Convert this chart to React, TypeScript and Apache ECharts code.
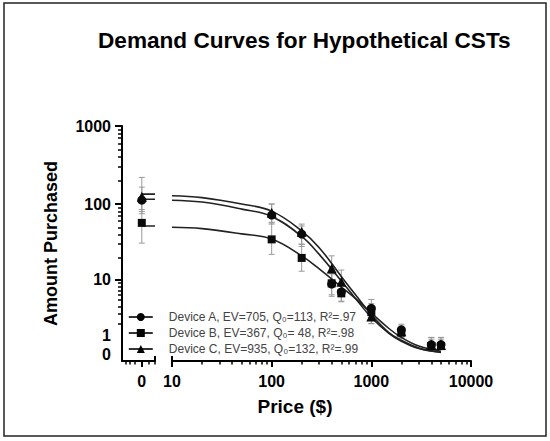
import { useEffect, useRef } from "react";
import * as echarts from "echarts";

const FONT = "'Liberation Sans', Arial, sans-serif";

const LEGEND_NAMES = [
  "Device A, EV=705, Q₀=113, R²=.97",
  "Device B, EV=367, Q₀= 48, R²=.98",
  "Device C, EV=935, Q₀=132, R²=.99",
];
const SYMBOLS = ["circle", "rect", "triangle"];
const SYMBOL_SIZES = [9, 8, 10];

// price = 0 segment
const ZERO_MEAN = [112, 57, 124];
const ZERO_LOW = [75, 31, 80];
const ZERO_HIGH = [165, 85, 220];
const ZERO_FIT = [115, 52, 134];

// observed prices
const PRICES = [100, 200, 400, 500, 1000, 2000, 4000, 5000];
const A_MEAN = [72, 40.7, 8.6, 6.6, 3.7, 1.5, 0.62, 0.62];
const A_LOW = [55, 28, 5.7, 4.7, 2.6, 1.1, 0.42, 0.42];
const A_HIGH = [100, 52, 12, 9, 5.1, 1.95, 1.0, 1.0];
const B_MEAN = [34.7, 19.7, 8.8, 6.3, 3.2, 1.3, 0.55, 0.55];
const B_LOW = [22, 13, 6, 4.8, 2.0, 0.94, 0.42, 0.42];
const B_HIGH = [58, 30, 12, 8.5, 4.4, 1.7, 0.9, 0.9];
const C_MEAN = [77, 43.7, 14.2, 9.3, 2.7, 1.4, 0.6, 0.6];
const C_LOW = [57, 30, 10, 6.5, 2.0, 1.0, 0.42, 0.42];
const C_HIGH = [100, 55, 21, 13.5, 3.6, 1.8, 1.0, 1.0];

// fitted demand curves
const FIT_PRICES = [10, 20, 50, 100, 200, 300, 500, 700, 1000, 1500, 2000, 3000, 5000];
const A_FIT = [112, 106, 86, 69, 38, 22, 9.5, 5.2, 2.6, 1.26, 0.79, 0.44, 0.29];
const B_FIT = [50, 48, 41, 35, 21, 14, 7.8, 5.2, 3.1, 1.6, 1.0, 0.55, 0.33];
const C_FIT = [128, 121, 100, 81, 45, 27, 11, 5.9, 2.9, 1.3, 0.84, 0.46, 0.3];

const Y_LABELS = [1, 10, 100, 1000];
const Y_ZERO_LABEL = [0];
const Y_MAJOR = [10, 100, 1000];
const Y_MINOR = [2, 3, 4, 5, 6, 7, 8, 9, 20, 30, 40, 50, 60, 70, 80, 90, 200, 300, 400, 500, 600, 700, 800, 900];
const X_LABELS = [10, 100, 1000, 10000];
const X_MINOR = [20, 30, 40, 50, 60, 70, 80, 90, 200, 300, 400, 500, 600, 700, 800, 900, 2000, 3000, 4000, 5000, 6000, 7000, 8000, 9000];
const ZERO_MIN = -6;
const ZERO_MAX = 4;
const ZERO_MINOR = [-5, -3.6, -2.2, 2, 4];

const MEANS = [A_MEAN, B_MEAN, C_MEAN];
const LOWS = [A_LOW, B_LOW, C_LOW];
const HIGHS = [A_HIGH, B_HIGH, C_HIGH];
const FITS = [A_FIT, B_FIT, C_FIT];

// y axis is log10(Q + 1), x axis is log10(price)
const ty = (q: number) => Math.log10(q + 1);
const tx = (p: number) => Math.log10(p);

const errorBars = (params: any, api: any) => {
  const x = api.value(0);
  const lo = api.coord([x, api.value(1)]);
  const hi = api.coord([x, api.value(2)]);
  const style = { stroke: "#9a9a9a", lineWidth: 1 };
  const w = 3;
  return {
    type: "group",
    children: [
      { type: "line", shape: { x1: lo[0], y1: lo[1], x2: hi[0], y2: hi[1] }, style },
      { type: "line", shape: { x1: lo[0] - w, y1: lo[1], x2: lo[0] + w, y2: lo[1] }, style },
      { type: "line", shape: { x1: hi[0] - w, y1: hi[1], x2: hi[0] + w, y2: hi[1] }, style },
    ],
  };
};

const AXIS_LINE = { show: true, onZero: false, lineStyle: { color: "#000", width: 2 } };
const NO_LINE = { show: false, onZero: false };

export default function App() {
  const ref = useRef<HTMLDivElement | null>(null);

  useEffect(() => {
    if (!ref.current) return;
    const chart = echarts.init(ref.current, undefined, { renderer: "svg" });
    const yMax = ty(1000);
    const labelStyle = { color: "#000", fontSize: 16, fontWeight: "bold" as const, fontFamily: FONT };

    // extra x axis that only draws a short tick above the line (segment ends)
    const segmentEnd = (gridIndex: number, min: number, max: number, at: number) => ({
      type: "value",
      gridIndex,
      position: "bottom",
      min,
      max,
      splitLine: { show: false },
      axisLine: NO_LINE,
      axisTick: { show: true, inside: true, customValues: [at], length: 5, lineStyle: { color: "#000", width: 2 } },
      axisLabel: { show: false },
    });

    const series: any[] = [];
    LEGEND_NAMES.forEach((name, i) => {
      series.push({
        name,
        type: "line",
        xAxisIndex: 2,
        yAxisIndex: 2,
        smooth: 0.4,
        symbol: SYMBOLS[i],
        showSymbol: false,
        lineStyle: { color: "#222", width: 1.6 },
        itemStyle: { color: "#000" },
        z: 3,
        data: FIT_PRICES.map((p, j) => [tx(p), ty(FITS[i][j])]),
      });
      series.push({
        name: `zero-fit-${i}`,
        type: "line",
        xAxisIndex: 0,
        yAxisIndex: 0,
        symbol: "none",
        lineStyle: { color: "#222", width: 1.6 },
        z: 3,
        data: [
          [0, ty(ZERO_FIT[i])],
          [ZERO_MAX, ty(ZERO_FIT[i])],
        ],
      });
      series.push({
        name: `err-${i}`,
        type: "custom",
        xAxisIndex: 2,
        yAxisIndex: 2,
        renderItem: errorBars,
        z: 1,
        data: PRICES.map((p, j) => [tx(p), ty(LOWS[i][j]), ty(HIGHS[i][j])]),
      });
      series.push({
        name: `zero-err-${i}`,
        type: "custom",
        xAxisIndex: 0,
        yAxisIndex: 0,
        renderItem: errorBars,
        z: 1,
        data: [[0, ty(ZERO_LOW[i]), ty(ZERO_HIGH[i])]],
      });
      series.push({
        name: `pts-${i}`,
        type: "scatter",
        xAxisIndex: 2,
        yAxisIndex: 2,
        symbol: SYMBOLS[i],
        symbolSize: SYMBOL_SIZES[i],
        itemStyle: { color: "#0a0a0a", opacity: 1 },
        z: 4,
        data: PRICES.map((p, j) => [tx(p), ty(MEANS[i][j])]),
      });
      series.push({
        name: `zero-pts-${i}`,
        type: "scatter",
        xAxisIndex: 0,
        yAxisIndex: 0,
        symbol: SYMBOLS[i],
        symbolSize: SYMBOL_SIZES[i],
        itemStyle: { color: "#0a0a0a", opacity: 1 },
        z: 4,
        data: [[0, ty(ZERO_MEAN[i])]],
      });
    });

    chart.setOption({
      animation: false,
      textStyle: { fontFamily: FONT },
      title: {
        text: "Demand Curves for Hypothetical CSTs",
        left: 93,
        top: 24,
        textStyle: { color: "#000", fontSize: 22.6, fontWeight: "bold", fontFamily: FONT },
      },
      graphic: [
        {
          type: "rect",
          shape: { x: 4, y: 3, width: 542, height: 433 },
          style: { fill: "transparent", stroke: "#222", lineWidth: 1.5 },
          silent: true,
        },
      ],
      legend: {
        data: LEGEND_NAMES,
        orient: "vertical",
        left: 123,
        top: 305,
        itemWidth: 24,
        itemHeight: 10,
        itemGap: 2,
        selectedMode: false,
        lineStyle: { color: "#000", width: 1.6 },
        textStyle: { color: "#444", fontSize: 12, fontFamily: FONT, lineHeight: 14, padding: [0, 0, 0, 11] },
      },
      grid: [
        { left: 122, right: 395, top: 126, bottom: 80 },
        { left: 172, right: 79, top: 126, bottom: 80 },
      ],
      xAxis: [
        {
          type: "value",
          gridIndex: 0,
          position: "bottom",
          min: ZERO_MIN,
          max: ZERO_MAX,
          splitLine: { show: false },
          axisLine: AXIS_LINE,
          axisTick: { show: true, customValues: [0], length: 6, lineStyle: { color: "#000", width: 2 } },
          axisLabel: { customValues: [0], margin: 12, ...labelStyle, formatter: () => "0" },
        },
        {
          type: "value",
          gridIndex: 0,
          position: "bottom",
          min: ZERO_MIN,
          max: ZERO_MAX,
          splitLine: { show: false },
          axisLine: NO_LINE,
          axisTick: { show: true, customValues: ZERO_MINOR, length: 3.5, lineStyle: { color: "#000", width: 1.5 } },
          axisLabel: { show: false },
        },
        {
          type: "value",
          gridIndex: 1,
          position: "bottom",
          min: tx(10),
          max: tx(10000),
          name: "Price ($)",
          nameLocation: "middle",
          nameGap: 36,
          nameTextStyle: { color: "#000", fontSize: 19, fontWeight: "bold", fontFamily: FONT, padding: [0, 53, 0, 0] },
          splitLine: { show: false },
          axisLine: AXIS_LINE,
          axisTick: { show: true, customValues: X_LABELS.map(tx), length: 6, lineStyle: { color: "#000", width: 2 } },
          axisLabel: {
            customValues: X_LABELS.map(tx),
            margin: 12,
            ...labelStyle,
            formatter: (v: number) => String(Math.round(Math.pow(10, v))),
          },
        },
        {
          type: "value",
          gridIndex: 1,
          position: "bottom",
          min: tx(10),
          max: tx(10000),
          splitLine: { show: false },
          axisLine: NO_LINE,
          axisTick: { show: true, customValues: X_MINOR.map(tx), length: 3.5, lineStyle: { color: "#000", width: 1.5 } },
          axisLabel: { show: false },
        },
        segmentEnd(0, ZERO_MIN, ZERO_MAX, ZERO_MAX),
        segmentEnd(1, tx(10), tx(10000), tx(10)),
      ],
      yAxis: [
        {
          type: "value",
          gridIndex: 0,
          position: "left",
          min: 0,
          max: yMax,
          name: "Amount Purchased",
          nameLocation: "middle",
          nameGap: 62,
          nameTextStyle: { color: "#000", fontSize: 18, fontWeight: "bold", fontFamily: FONT },
          splitLine: { show: false },
          axisLine: AXIS_LINE,
          axisTick: { show: true, customValues: Y_MAJOR.map(ty), length: 7, lineStyle: { color: "#000", width: 2 } },
          axisLabel: {
            customValues: Y_LABELS.map(ty),
            showMinLabel: true,
            showMaxLabel: true,
            margin: 11,
            ...labelStyle,
            lineHeight: 13,
            formatter: (v: number) => {
              const q = Math.round(Math.pow(10, v) - 1);
              return q === 1 ? "{up|1}" : String(q);
            },
            rich: { up: { ...labelStyle, lineHeight: 13, padding: [0, 0, 4, 0] } },
          },
        },
        {
          type: "value",
          gridIndex: 0,
          position: "left",
          min: 0,
          max: yMax,
          splitLine: { show: false },
          axisLine: NO_LINE,
          axisTick: { show: true, customValues: Y_MINOR.map(ty), length: 4, lineStyle: { color: "#000", width: 1.5 } },
          axisLabel: {
            customValues: Y_ZERO_LABEL.map(ty),
            showMinLabel: true,
            margin: 11,
            ...labelStyle,
            formatter: (v: number) => `{lift|${Math.round(Math.pow(10, v) - 1)}}`,
            rich: { lift: { ...labelStyle, lineHeight: 13, padding: [0, 0, 13, 0] } },
          },
        },
        {
          type: "value",
          gridIndex: 1,
          min: 0,
          max: yMax,
          show: false,
        },
      ],
      series,
    });

    return () => chart.dispose();
  }, []);

  return (
    <div style={{ position: "fixed", left: 0, top: 0, width: 550, height: 441, background: "#fff" }}>
      <div ref={ref} style={{ width: 550, height: 441 }} />
    </div>
  );
}
